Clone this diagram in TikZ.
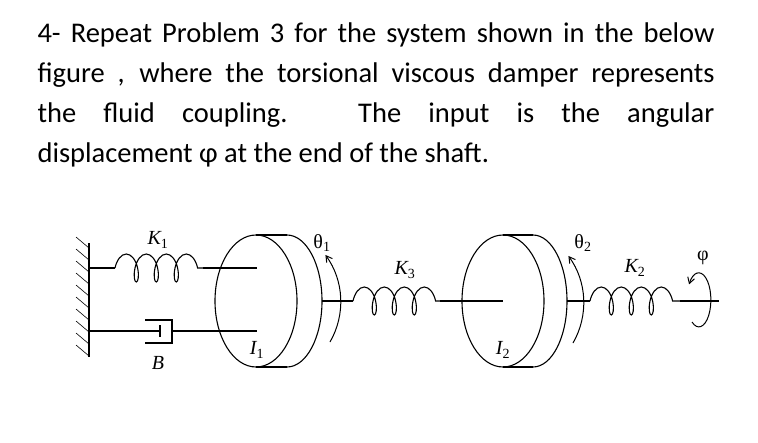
\documentclass[tikz,border=0pt]{standalone}
\usepackage{fontspec}
\setmainfont{Carlito}
\newfontfamily\serifl{Liberation Serif}
\usetikzlibrary{decorations.pathmorphing,arrows.meta}
\begin{document}
\begin{tikzpicture}[x=1pt,y=-1pt,line width=1.1pt,
  springc/.style={decorate,decoration={coil,segment length=20pt,amplitude=14pt,aspect=0.45,pre length=0pt,post length=0pt}},
  lbl/.style={font=\serifl\fontsize{20}{20}\selectfont\itshape,inner sep=0pt},
  glbl/.style={font=\serifl\fontsize{20}{20}\selectfont,inner sep=0pt},
  txt/.style={anchor=base west,inner sep=0pt,font=\fontsize{28.5}{40}\selectfont},
  rot/.style={-{Straight Barb[length=6pt,width=7pt]}, line width=1pt}]
\useasboundingbox (0,0) rectangle (758,442);
\node[txt] (t1) at (37,42) {\makebox[677pt][s]{4- Repeat Problem 3 for the system shown in the below}};
\node[txt] (t2) at (37,82) {\makebox[677pt][s]{figure , where the torsional viscous damper represents}};
\node[txt] (t3) at (37,122) {\makebox[677pt][s]{the fluid coupling. The input is the angular}};
\node[txt] (t4) at (37,162) {displacement φ at the end of the shaft.};
% wall
\coordinate (wt) at (89,243); \coordinate (wb) at (89,357);
\draw (wt) -- (wb);
\foreach \y in {248,260,...,356} \draw[line width=0.6pt] (89,\y) -- ++(-13,-11);
% K1
\coordinate (k1a) at (89,268); \coordinate (k1b) at (115,268);
\coordinate (k1c) at (203,268); \coordinate (k1d) at (257,268);
\draw (k1a) -- (k1b); \draw[springc] (k1b) -- (k1c); \draw (k1c) -- (k1d);
\node[lbl] (K1) at (158,240) {K\textsubscript{\upshape 1}};
% damper
\coordinate (da) at (89,331); \coordinate (dp) at (160,331);
\draw (da) -- (dp);
\draw[line width=2.5pt] (160,325) -- (160,337);
\draw (145,320) -- (172,320) -- (172,343) -- (145,343);
\coordinate (dr) at (172,331); \coordinate (de) at (257,331);
\draw (dr) -- (de);
\node[lbl] (B) at (158,363) {B};
% disk 1
\draw (256,235) -- (287,235); \draw (256,367) -- (287,367);
\draw (287,235) arc[start angle=-90,end angle=90,x radius=35,y radius=66];
\draw (256,301) ellipse[x radius=41,y radius=66];
\node[lbl] (I1) at (257,350) {I\textsubscript{\upshape 1}};
\draw[rot] (330,342) arc[start angle=30,end angle=-36,radius=80];
\node[glbl] (th1) at (322,243) {θ\textsubscript{1}};
% shaft and K3
\coordinate (s1) at (322,301); \coordinate (s2) at (353,301);
\coordinate (s3) at (440,301); \coordinate (s4) at (503,301);
\draw (s1) -- (s2); \draw[springc] (s2) -- (s3); \draw (s3) -- (s4);
\node[lbl] (K3) at (405,270) {K\textsubscript{\upshape 3}};
% disk 2
\draw (503,235) -- (533,235); \draw (503,367) -- (533,367);
\draw (533,235) arc[start angle=-90,end angle=90,x radius=34,y radius=66];
\draw (503,301) ellipse[x radius=41,y radius=66];
\node[lbl] (I2) at (503,350) {I\textsubscript{\upshape 2}};
\draw[rot] (573,343) arc[start angle=30,end angle=-36,radius=80];
\node[glbl] (th2) at (583,243) {θ\textsubscript{2}};
% K2
\coordinate (u1) at (567,301); \coordinate (u2) at (590,301);
\coordinate (u3) at (680,301); \coordinate (u4) at (719,301);
\draw (u1) -- (u2); \draw[springc] (u2) -- (u3); \draw (u3) -- (u4);
\node[lbl] (K2) at (635,268) {K\textsubscript{\upshape 2}};
\draw[rot] (692,322) arc[start angle=-235,end angle=-505,x radius=12,y radius=27];
\node[glbl] (phi) at (703,258) {φ};
\end{tikzpicture}
\end{document}
